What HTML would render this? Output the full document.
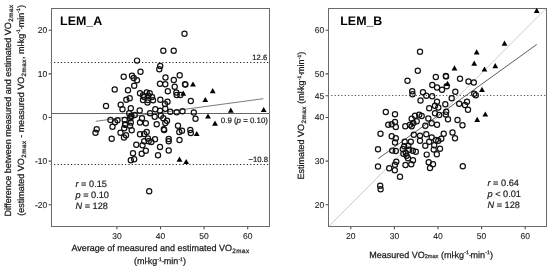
<!DOCTYPE html>
<html lang="en"><head><meta charset="utf-8"><title>LEM_A / LEM_B</title>
<style>html,body{margin:0;padding:0;background:#fff}svg{display:block}</style></head>
<body>
<svg width="550" height="270" viewBox="0 0 550 270" font-family="&quot;Liberation Sans&quot;, sans-serif" text-rendering="geometricPrecision">
<rect width="550" height="270" fill="#fff"/>
<rect x="51.5" y="8.5" width="218" height="218" fill="none" stroke="#6a6a6a" stroke-width="1" shape-rendering="crispEdges"/>
<rect x="328.5" y="8.5" width="218" height="218" fill="none" stroke="#6a6a6a" stroke-width="1" shape-rendering="crispEdges"/>
<path d="M116.9 227V229.2M160.5 227V229.2M204.1 227V229.2M247.7 227V229.2M350.8 227V229.2M394.4 227V229.2M438.0 227V229.2M481.6 227V229.2M525.2 227V229.2M48.6 204.7H51M48.6 161.1H51M48.6 117.5H51M48.6 73.9H51M48.6 30.3H51M325.6 204.7H328M325.6 161.1H328M325.6 117.5H328M325.6 95.7H328M325.6 73.9H328M325.6 30.3H328" stroke="#4a4a4a" stroke-width="1.1" fill="none"/>
<path d="M50 62.5H51M50 164.5H51" stroke="#bbb" stroke-width="1" fill="none"/>
<g font-size="8.5" fill="#1c1c1c" stroke="#1c1c1c" stroke-width="0.1">
<text x="116.9" y="238.6" text-anchor="middle">30</text>
<text x="160.5" y="238.6" text-anchor="middle">40</text>
<text x="204.1" y="238.6" text-anchor="middle">50</text>
<text x="247.7" y="238.6" text-anchor="middle">60</text>
<text x="350.8" y="238.6" text-anchor="middle">20</text>
<text x="394.4" y="238.6" text-anchor="middle">30</text>
<text x="438.0" y="238.6" text-anchor="middle">40</text>
<text x="481.6" y="238.6" text-anchor="middle">50</text>
<text x="525.2" y="238.6" text-anchor="middle">60</text>
<text x="47.2" y="207.6" text-anchor="end">-20</text>
<text x="47.2" y="164.0" text-anchor="end">-10</text>
<text x="47.2" y="120.4" text-anchor="end">0</text>
<text x="47.2" y="76.8" text-anchor="end">10</text>
<text x="47.2" y="33.2" text-anchor="end">20</text>
<text x="324.3" y="207.6" text-anchor="end">20</text>
<text x="324.3" y="164.0" text-anchor="end">30</text>
<text x="324.3" y="120.4" text-anchor="end">40</text>
<text x="324.3" y="98.6" text-anchor="end">45</text>
<text x="324.3" y="76.8" text-anchor="end">50</text>
<text x="324.3" y="33.2" text-anchor="end">60</text>
</g>
<g stroke="#222" stroke-width="1.1" stroke-dasharray="1.2 2.18" fill="none">
<path d="M54.1 62.5H269"/><path d="M54.1 164.5H269"/><path stroke="#3a3a3a" stroke-width="0.9" d="M331.2 95.5H546"/>
</g>
<path d="M52 113.5H269" stroke="#555" stroke-width="0.9" fill="none"/>
<path d="M95.8 121.3L263.3 98.7" stroke="#444" stroke-width="0.7" fill="none"/>
<path d="M329 226L546 8.6" stroke="#999" stroke-width="0.5" fill="none"/>
<path d="M378.3 158.6L536.7 44.5" stroke="#333" stroke-width="0.8" fill="none"/>
<g fill="none" stroke="#111" stroke-width="1.2">
<circle cx="163.3" cy="50.8" r="2.6"/>
<circle cx="173.7" cy="50.8" r="2.6"/>
<circle cx="137.0" cy="60.6" r="2.6"/>
<circle cx="160.2" cy="66.0" r="2.6"/>
<circle cx="184.5" cy="33.8" r="2.6"/>
<circle cx="159.3" cy="69.2" r="2.6"/>
<circle cx="140.5" cy="71.7" r="2.6"/>
<circle cx="179.7" cy="75.3" r="2.6"/>
<circle cx="123.7" cy="76.7" r="2.6"/>
<circle cx="132.0" cy="75.8" r="2.6"/>
<circle cx="133.7" cy="78.0" r="2.6"/>
<circle cx="137.0" cy="80.3" r="2.6"/>
<circle cx="165.5" cy="77.5" r="2.6"/>
<circle cx="173.8" cy="80.0" r="2.6"/>
<circle cx="160.0" cy="83.7" r="2.6"/>
<circle cx="165.3" cy="84.2" r="2.6"/>
<circle cx="134.2" cy="85.8" r="2.6"/>
<circle cx="174.7" cy="86.7" r="2.6"/>
<circle cx="114.7" cy="89.5" r="2.6"/>
<circle cx="128.0" cy="90.3" r="2.6"/>
<circle cx="167.8" cy="91.2" r="2.6"/>
<circle cx="176.3" cy="92.5" r="2.6"/>
<circle cx="176.7" cy="95.0" r="2.6"/>
<circle cx="180.3" cy="95.0" r="2.6"/>
<circle cx="140.0" cy="93.3" r="2.6"/>
<circle cx="146.7" cy="92.5" r="2.6"/>
<circle cx="149.7" cy="93.3" r="2.6"/>
<circle cx="143.0" cy="95.3" r="2.6"/>
<circle cx="144.2" cy="97.0" r="2.6"/>
<circle cx="148.3" cy="95.8" r="2.6"/>
<circle cx="152.0" cy="97.0" r="2.6"/>
<circle cx="129.7" cy="98.2" r="2.6"/>
<circle cx="126.3" cy="99.8" r="2.6"/>
<circle cx="143.0" cy="100.0" r="2.6"/>
<circle cx="148.0" cy="100.0" r="2.6"/>
<circle cx="153.0" cy="100.3" r="2.6"/>
<circle cx="160.3" cy="99.7" r="2.6"/>
<circle cx="167.5" cy="101.7" r="2.6"/>
<circle cx="120.7" cy="104.8" r="2.6"/>
<circle cx="106.0" cy="106.0" r="2.6"/>
<circle cx="147.5" cy="102.5" r="2.6"/>
<circle cx="165.0" cy="104.0" r="2.6"/>
<circle cx="185.0" cy="84.2" r="2.6"/>
<circle cx="185.4" cy="84.6" r="2.6"/>
<circle cx="190.8" cy="101.0" r="2.6"/>
<circle cx="122.5" cy="109.2" r="2.6"/>
<circle cx="130.8" cy="108.3" r="2.6"/>
<circle cx="139.7" cy="110.5" r="2.6"/>
<circle cx="155.3" cy="109.2" r="2.6"/>
<circle cx="150.0" cy="113.3" r="2.6"/>
<circle cx="154.7" cy="116.7" r="2.6"/>
<circle cx="160.0" cy="110.8" r="2.6"/>
<circle cx="165.3" cy="108.7" r="2.6"/>
<circle cx="170.3" cy="111.7" r="2.6"/>
<circle cx="176.7" cy="112.2" r="2.6"/>
<circle cx="160.8" cy="115.8" r="2.6"/>
<circle cx="163.3" cy="118.3" r="2.6"/>
<circle cx="167.0" cy="120.8" r="2.6"/>
<circle cx="165.3" cy="123.0" r="2.6"/>
<circle cx="129.2" cy="113.3" r="2.6"/>
<circle cx="131.3" cy="115.8" r="2.6"/>
<circle cx="134.7" cy="115.0" r="2.6"/>
<circle cx="130.0" cy="118.3" r="2.6"/>
<circle cx="110.5" cy="120.0" r="2.6"/>
<circle cx="117.5" cy="120.3" r="2.6"/>
<circle cx="115.0" cy="122.2" r="2.6"/>
<circle cx="124.7" cy="120.0" r="2.6"/>
<circle cx="130.8" cy="122.5" r="2.6"/>
<circle cx="125.0" cy="124.7" r="2.6"/>
<circle cx="130.0" cy="125.8" r="2.6"/>
<circle cx="112.5" cy="126.7" r="2.6"/>
<circle cx="142.0" cy="118.3" r="2.6"/>
<circle cx="140.0" cy="122.5" r="2.6"/>
<circle cx="145.8" cy="123.3" r="2.6"/>
<circle cx="156.7" cy="124.2" r="2.6"/>
<circle cx="163.8" cy="129.2" r="2.6"/>
<circle cx="178.0" cy="125.8" r="2.6"/>
<circle cx="179.3" cy="132.0" r="2.6"/>
<circle cx="96.7" cy="129.2" r="2.6"/>
<circle cx="95.5" cy="132.8" r="2.6"/>
<circle cx="124.2" cy="128.3" r="2.6"/>
<circle cx="131.7" cy="130.3" r="2.6"/>
<circle cx="120.5" cy="132.8" r="2.6"/>
<circle cx="126.0" cy="135.2" r="2.6"/>
<circle cx="146.7" cy="132.0" r="2.6"/>
<circle cx="140.0" cy="134.2" r="2.6"/>
<circle cx="144.2" cy="134.0" r="2.6"/>
<circle cx="111.7" cy="138.7" r="2.6"/>
<circle cx="124.0" cy="137.5" r="2.6"/>
<circle cx="148.0" cy="138.5" r="2.6"/>
<circle cx="155.0" cy="139.2" r="2.6"/>
<circle cx="168.7" cy="139.0" r="2.6"/>
<circle cx="179.5" cy="140.0" r="2.6"/>
<circle cx="182.5" cy="111.2" r="2.6"/>
<circle cx="193.8" cy="112.5" r="2.6"/>
<circle cx="195.5" cy="118.8" r="2.6"/>
<circle cx="190.3" cy="130.0" r="2.6"/>
<circle cx="190.8" cy="133.0" r="2.6"/>
<circle cx="182.0" cy="130.8" r="2.6"/>
<circle cx="144.2" cy="141.3" r="2.6"/>
<circle cx="148.7" cy="141.3" r="2.6"/>
<circle cx="151.3" cy="142.0" r="2.6"/>
<circle cx="168.7" cy="141.3" r="2.6"/>
<circle cx="164.2" cy="130.0" r="2.6"/>
<circle cx="136.3" cy="144.7" r="2.6"/>
<circle cx="142.5" cy="145.3" r="2.6"/>
<circle cx="160.0" cy="147.0" r="2.6"/>
<circle cx="145.8" cy="150.8" r="2.6"/>
<circle cx="168.7" cy="150.5" r="2.6"/>
<circle cx="133.0" cy="153.3" r="2.6"/>
<circle cx="141.7" cy="153.7" r="2.6"/>
<circle cx="158.0" cy="155.3" r="2.6"/>
<circle cx="134.2" cy="159.2" r="2.6"/>
<circle cx="130.8" cy="160.3" r="2.6"/>
<circle cx="149.2" cy="191.3" r="2.6"/>
<circle cx="131.1" cy="116.9" r="2.6"/>
<circle cx="125.4" cy="124.2" r="2.6"/>
<circle cx="420.0" cy="51.7" r="2.6"/>
<circle cx="417.8" cy="70.8" r="2.6"/>
<circle cx="407.5" cy="80.8" r="2.6"/>
<circle cx="435.8" cy="77.0" r="2.6"/>
<circle cx="445.8" cy="76.0" r="2.6"/>
<circle cx="446.1" cy="76.4" r="2.6"/>
<circle cx="432.3" cy="85.0" r="2.6"/>
<circle cx="460.0" cy="78.7" r="2.6"/>
<circle cx="468.5" cy="81.5" r="2.6"/>
<circle cx="473.8" cy="82.5" r="2.6"/>
<circle cx="437.0" cy="87.5" r="2.6"/>
<circle cx="442.0" cy="89.7" r="2.6"/>
<circle cx="446.7" cy="86.3" r="2.6"/>
<circle cx="412.2" cy="91.3" r="2.6"/>
<circle cx="412.5" cy="94.2" r="2.6"/>
<circle cx="423.0" cy="92.2" r="2.6"/>
<circle cx="426.3" cy="95.8" r="2.6"/>
<circle cx="432.2" cy="96.3" r="2.6"/>
<circle cx="455.3" cy="91.7" r="2.6"/>
<circle cx="420.5" cy="100.5" r="2.6"/>
<circle cx="451.7" cy="98.3" r="2.6"/>
<circle cx="437.0" cy="101.7" r="2.6"/>
<circle cx="435.0" cy="105.8" r="2.6"/>
<circle cx="438.3" cy="107.5" r="2.6"/>
<circle cx="445.3" cy="104.2" r="2.6"/>
<circle cx="429.2" cy="108.3" r="2.6"/>
<circle cx="385.8" cy="112.0" r="2.6"/>
<circle cx="395.0" cy="114.2" r="2.6"/>
<circle cx="435.0" cy="113.3" r="2.6"/>
<circle cx="439.2" cy="115.0" r="2.6"/>
<circle cx="446.2" cy="111.7" r="2.6"/>
<circle cx="445.8" cy="114.6" r="2.6"/>
<circle cx="415.0" cy="115.8" r="2.6"/>
<circle cx="419.2" cy="114.8" r="2.6"/>
<circle cx="421.7" cy="116.0" r="2.6"/>
<circle cx="411.7" cy="118.7" r="2.6"/>
<circle cx="428.3" cy="118.5" r="2.6"/>
<circle cx="448.0" cy="119.2" r="2.6"/>
<circle cx="474.2" cy="93.8" r="2.6"/>
<circle cx="475.8" cy="95.3" r="2.6"/>
<circle cx="467.0" cy="101.7" r="2.6"/>
<circle cx="459.2" cy="103.7" r="2.6"/>
<circle cx="465.0" cy="105.0" r="2.6"/>
<circle cx="468.0" cy="109.8" r="2.6"/>
<circle cx="457.5" cy="120.0" r="2.6"/>
<circle cx="462.5" cy="125.3" r="2.6"/>
<circle cx="455.0" cy="138.3" r="2.6"/>
<circle cx="416.7" cy="121.3" r="2.6"/>
<circle cx="395.0" cy="122.0" r="2.6"/>
<circle cx="388.3" cy="124.7" r="2.6"/>
<circle cx="391.7" cy="124.2" r="2.6"/>
<circle cx="395.8" cy="127.0" r="2.6"/>
<circle cx="405.3" cy="126.2" r="2.6"/>
<circle cx="410.0" cy="124.7" r="2.6"/>
<circle cx="411.7" cy="126.3" r="2.6"/>
<circle cx="413.3" cy="123.0" r="2.6"/>
<circle cx="425.3" cy="125.8" r="2.6"/>
<circle cx="431.7" cy="123.3" r="2.6"/>
<circle cx="437.0" cy="124.7" r="2.6"/>
<circle cx="380.5" cy="133.7" r="2.6"/>
<circle cx="391.7" cy="136.2" r="2.6"/>
<circle cx="395.8" cy="138.3" r="2.6"/>
<circle cx="395.0" cy="142.5" r="2.6"/>
<circle cx="413.8" cy="134.7" r="2.6"/>
<circle cx="420.0" cy="135.8" r="2.6"/>
<circle cx="426.3" cy="134.2" r="2.6"/>
<circle cx="443.7" cy="133.7" r="2.6"/>
<circle cx="452.5" cy="132.5" r="2.6"/>
<circle cx="431.7" cy="137.5" r="2.6"/>
<circle cx="441.3" cy="138.7" r="2.6"/>
<circle cx="438.3" cy="140.8" r="2.6"/>
<circle cx="435.8" cy="140.0" r="2.6"/>
<circle cx="420.0" cy="140.8" r="2.6"/>
<circle cx="429.2" cy="141.7" r="2.6"/>
<circle cx="404.7" cy="141.7" r="2.6"/>
<circle cx="410.8" cy="141.7" r="2.6"/>
<circle cx="425.3" cy="145.8" r="2.6"/>
<circle cx="434.2" cy="145.3" r="2.6"/>
<circle cx="404.2" cy="146.3" r="2.6"/>
<circle cx="408.3" cy="145.8" r="2.6"/>
<circle cx="378.0" cy="149.2" r="2.6"/>
<circle cx="392.2" cy="150.6" r="2.6"/>
<circle cx="395.8" cy="151.0" r="2.6"/>
<circle cx="402.8" cy="149.0" r="2.6"/>
<circle cx="409.2" cy="149.7" r="2.6"/>
<circle cx="412.8" cy="150.8" r="2.6"/>
<circle cx="415.8" cy="151.8" r="2.6"/>
<circle cx="433.7" cy="149.6" r="2.6"/>
<circle cx="440.0" cy="148.8" r="2.6"/>
<circle cx="405.8" cy="153.0" r="2.6"/>
<circle cx="426.7" cy="154.6" r="2.6"/>
<circle cx="436.8" cy="154.2" r="2.6"/>
<circle cx="406.7" cy="155.8" r="2.6"/>
<circle cx="408.0" cy="158.3" r="2.6"/>
<circle cx="413.0" cy="160.3" r="2.6"/>
<circle cx="396.3" cy="161.7" r="2.6"/>
<circle cx="395.0" cy="164.7" r="2.6"/>
<circle cx="405.5" cy="165.0" r="2.6"/>
<circle cx="411.3" cy="164.2" r="2.6"/>
<circle cx="428.7" cy="162.2" r="2.6"/>
<circle cx="433.0" cy="164.2" r="2.6"/>
<circle cx="430.0" cy="168.0" r="2.6"/>
<circle cx="378.0" cy="166.5" r="2.6"/>
<circle cx="389.2" cy="168.3" r="2.6"/>
<circle cx="394.8" cy="170.2" r="2.6"/>
<circle cx="400.0" cy="176.7" r="2.6"/>
<circle cx="380.2" cy="185.8" r="2.6"/>
<circle cx="380.6" cy="189.2" r="2.6"/>
<circle cx="462.8" cy="166.2" r="2.6"/>
<circle cx="403.4" cy="153.7" r="2.6"/>
</g>
<g fill="#000">
<path d="M193.0 81.4L195.9 86.6H190.1Z"/>
<path d="M212.7 88.0L215.6 93.2H209.8Z"/>
<path d="M183.3 90.5L186.2 95.7H180.4Z"/>
<path d="M205.3 96.9L208.2 102.1H202.4Z"/>
<path d="M230.8 107.5L233.7 112.7H227.9Z"/>
<path d="M263.7 106.9L266.6 112.1H260.8Z"/>
<path d="M208.0 113.4L210.9 118.6H205.1Z"/>
<path d="M215.0 120.5L217.9 125.7H212.1Z"/>
<path d="M196.7 130.9L199.6 136.1H193.8Z"/>
<path d="M179.5 156.5L182.4 161.7H176.6Z"/>
<path d="M186.2 158.9L189.1 164.1H183.3Z"/>
<path d="M536.7 7.7L539.6 12.9H533.8Z"/>
<path d="M504.5 40.5L507.4 45.7H501.6Z"/>
<path d="M476.7 49.2L479.6 54.4H473.8Z"/>
<path d="M474.2 60.5L477.1 65.7H471.3Z"/>
<path d="M495.3 63.0L498.2 68.2H492.4Z"/>
<path d="M484.5 66.4L487.4 71.6H481.6Z"/>
<path d="M454.5 65.2L457.4 70.4H451.6Z"/>
<path d="M447.5 80.7L450.4 85.9H444.6Z"/>
<path d="M482.0 86.7L484.9 91.9H479.1Z"/>
<path d="M485.3 111.4L488.2 116.6H482.4Z"/>
<path d="M477.2 116.7L480.1 121.9H474.3Z"/>
</g>
<g font-size="12.4" font-weight="bold" fill="#000"><text x="60.1" y="25.4">LEM_A</text><text x="340.3" y="24.6">LEM_B</text></g>
<g font-size="7.7" fill="#1c1c1c" stroke="#1c1c1c" stroke-width="0.2"><text x="267.3" y="59.8" text-anchor="end">12.6</text><text x="268" y="161.7" text-anchor="end">−10.8</text></g>
<text font-size="7.9" fill="#1c1c1c" stroke="#1c1c1c" stroke-width="0.2" x="220.8" y="123.3">0.9 (<tspan font-style="italic">p</tspan> = 0.10)</text>
<g font-size="9.2" fill="#1c1c1c" stroke="#1c1c1c" stroke-width="0.2">
<text x="75.5" y="187"><tspan font-style="italic">r</tspan> = 0.15</text>
<text x="75.5" y="197.9"><tspan font-style="italic">p</tspan> = 0.10</text>
<text x="75.5" y="208.8"><tspan font-style="italic">N</tspan> = 128</text>
<text x="487.5" y="186.3"><tspan font-style="italic">r</tspan> = 0.64</text>
<text x="487.5" y="197.3"><tspan font-style="italic">p</tspan> &lt; 0.01</text>
<text x="487.5" y="208.3"><tspan font-style="italic">N</tspan> = 128</text>
</g>
<g font-size="9" fill="#1c1c1c" stroke="#1c1c1c" stroke-width="0.25">
<text id="lx1" x="71.5" y="250.6">Average of measured and estimated VO<tspan font-size="6.3" dy="2.4" dx="0.4" letter-spacing="0.5">2max</tspan></text>
<text id="lx2" x="134" y="264.4">(ml<tspan dx="-0.9">·</tspan><tspan dx="-0.9">kg</tspan><tspan font-size="5" dy="-3.6" dx="0.2">-1</tspan><tspan dy="3.6" dx="-0.3">·</tspan><tspan dx="-0.9">min</tspan><tspan font-size="5" dy="-3.6" dx="0.2">-1</tspan><tspan dy="3.6" dx="0.2">)</tspan></text>
<text id="rx" x="369.2" y="257.5">Measured VO<tspan font-size="5.6" fill="#555">2max</tspan> (ml<tspan dx="-0.9">·</tspan><tspan dx="-0.9">kg</tspan><tspan font-size="5" dy="-3.6" dx="0.2">-1</tspan><tspan dy="3.6" dx="-0.3">·</tspan><tspan dx="-0.9">min</tspan><tspan font-size="5" dy="-3.6" dx="0.2">-1</tspan><tspan dy="3.6" dx="0.2">)</tspan></text>
<text id="ly1" transform="translate(11 216.6) rotate(-90)">Difference between measured and estimated VO<tspan font-size="6.3" dy="2.4" dx="0.4" letter-spacing="0.5">2max</tspan></text>
<text id="ly2" transform="translate(24 215.7) rotate(-90)">(estimated VO<tspan font-size="6.3" dy="2.4" dx="0.4" letter-spacing="0.5">2max</tspan><tspan dy="-2.4"> - measured VO</tspan><tspan font-size="6.3" dy="2.4" dx="0.4" letter-spacing="0.5">2max</tspan><tspan dy="-2.4">, ml<tspan dx="-0.9">·</tspan><tspan dx="-0.9">kg</tspan><tspan font-size="5" dy="-3.6" dx="0.2">-1</tspan><tspan dy="3.6" dx="-0.3">·</tspan><tspan dx="-0.9">min</tspan><tspan font-size="5" dy="-3.6" dx="0.2">-1</tspan><tspan dy="3.6" dx="0.2">)</tspan></tspan></text>
<text id="ry" transform="translate(304.3 179.5) rotate(-90)">Estimated VO<tspan font-size="6.3" dy="1.4" dx="0.4" letter-spacing="0.5">2max</tspan><tspan dy="-1.4"> (ml<tspan dx="-0.9">·</tspan><tspan dx="-0.9">kg</tspan><tspan font-size="5" dy="-3.6" dx="0.2">-1</tspan><tspan dy="3.6" dx="-0.3">·</tspan><tspan dx="-0.9">min</tspan><tspan font-size="5" dy="-3.6" dx="0.2">-1</tspan><tspan dy="3.6" dx="0.2">)</tspan></tspan></text>
</g>
</svg>
</body></html>
